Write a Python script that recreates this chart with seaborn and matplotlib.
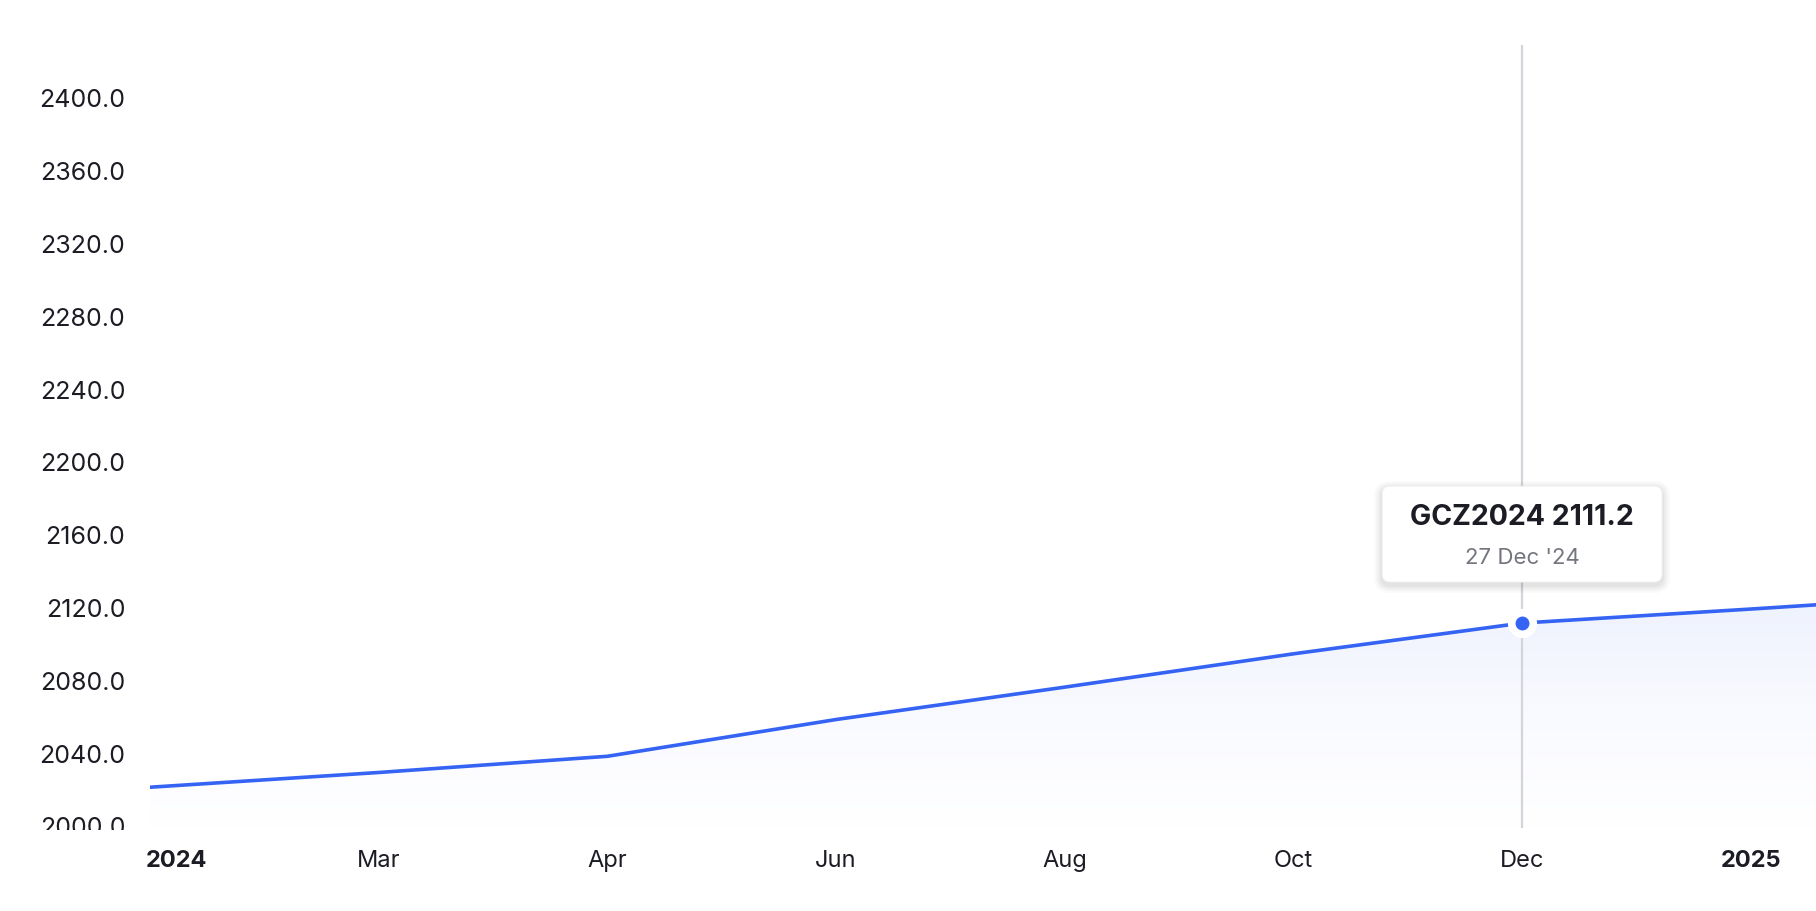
import numpy as np
import pandas as pd
import matplotlib
matplotlib.use("Agg")
import matplotlib.pyplot as plt
import matplotlib.transforms as mtransforms
from matplotlib.patches import FancyBboxPatch
from matplotlib.colors import LinearSegmentedColormap
import seaborn as sns

# ---------------- data ----------------
tick_labels = ["2024", "Mar", "Apr", "Jun", "Aug", "Oct", "Dec", "2025"]
curve_values = [2021.0, 2029.1, 2038.0, 2058.2, 2076.0, 2094.3, 2111.2, 2118.9, 2127.0]
y_ticks = [2000, 2040, 2080, 2120, 2160, 2200, 2240, 2280, 2320, 2360, 2400]
tooltip_symbol = "GCZ2024"
tooltip_value = 2111.2
tooltip_date = "27 Dec '24"
tooltip_index = 6

# ---------------- style ----------------
sns.set_theme(style="white")
plt.rcParams["font.family"] = ["Inter", "DejaVu Sans"]

LINE = "#3563F3"
TXT = "#1b1c24"

W, H, DPI = 1816, 912, 100
fig = plt.figure(figsize=(W / DPI, H / DPI), dpi=DPI)
ax = fig.add_axes([150 / W, 1 - 829 / H, 1 - 150 / W, (829 - 46) / H])

df = pd.DataFrame({"idx": np.arange(len(curve_values)), "price": curve_values})

ymin, ymax = 1998.6, 2428.8
xmin, xmax = 0.0, 7.285
ax.set_xlim(xmin, xmax)
ax.set_ylim(ymin, ymax)

# gradient fill under the line
cmap = LinearSegmentedColormap.from_list("g", ["#ffffff", "#f9faff", "#eef2fe"])
grad = np.linspace(0, 1, 256).reshape(-1, 1)
top_val = max(curve_values)
im = ax.imshow(grad, aspect="auto", cmap=cmap, origin="lower",
               extent=[xmin, len(curve_values) - 1, ymin, top_val], zorder=1)
poly = ax.fill_between(df["idx"], df["price"], ymin, color="none", lw=0)
im.set_clip_path(poly.get_paths()[0], transform=ax.transData)
ax.set_xlim(xmin, xmax)
ax.set_ylim(ymin, ymax)

# crosshair
ax.axvline(tooltip_index, color="#d2d5da", lw=1.6, zorder=2)

# line
sns.lineplot(data=df, x="idx", y="price", ax=ax, color=LINE, lw=2.6, zorder=3,
             legend=False)

# hovered point
ax.scatter([tooltip_index], [tooltip_value], s=21 ** 2, color="white", zorder=4, lw=0)
ax.scatter([tooltip_index], [tooltip_value], s=10 ** 2, color=LINE, zorder=5, lw=0)

# axes cosmetics
for s in ax.spines.values():
    s.set_visible(False)
ax.grid(False)
ax.set_xlabel("")
ax.set_ylabel("")
ax.set_xticks(range(len(tick_labels)))
ax.set_xticklabels(tick_labels)
ax.set_yticks(y_ticks)
ax.set_yticklabels([f"{v:.1f}" for v in y_ticks])
ax.tick_params(axis="both", length=0, colors=TXT, labelsize=17)
ax.tick_params(axis="y", labelsize=18, pad=17.8)
ax.tick_params(axis="x", pad=15)

for i, lbl in enumerate(ax.get_xticklabels()):
    if lbl.get_text() in ("2024", "2025"):
        lbl.set_fontweight("bold")
    if i == 0:
        lbl.set_horizontalalignment("left")
        lbl.set_transform(lbl.get_transform() + mtransforms.Affine2D().translate(-4, 0))

clip_bb = mtransforms.TransformedBbox(mtransforms.Bbox([[0, 1 - 831 / H], [1, 1]]), fig.transFigure)
for lbl in ax.get_yticklabels():
    lbl.set_clip_on(True)
    lbl.set_clip_box(clip_bb)

# tooltip anchored to the hovered point (offsets in pixels)
anchor = mtransforms.ScaledTranslation(tooltip_index, tooltip_value, ax.transData)
bx0, bx1 = -140, 140
by0, by1 = 41, 137
for k, a in enumerate([0.035, 0.03, 0.025, 0.02]):
    g = 2 + 2 * k
    sh = FancyBboxPatch((bx0 - g, by0 - 3 - g), (bx1 - bx0) + 2 * g, (by1 - by0) + 2 * g,
                        boxstyle=f"round,pad=0,rounding_size={8 + g}",
                        transform=anchor, facecolor="black", alpha=a, lw=0,
                        zorder=6, clip_on=False)
    fig.add_artist(sh)
box = FancyBboxPatch((bx0, by0), bx1 - bx0, by1 - by0,
                     boxstyle="round,pad=0,rounding_size=8",
                     transform=anchor, facecolor="white", edgecolor="#eceef1",
                     lw=0.6, zorder=7, clip_on=False)
fig.add_artist(box)
fig.text(0, 107, f"{tooltip_symbol} {tooltip_value:.1f}", transform=anchor,
         ha="center", va="center", fontsize=20.5, fontweight="bold",
         color=TXT, zorder=8)
fig.text(0, 66.5, tooltip_date, transform=anchor, ha="center", va="center",
         fontsize=16, color="#74767e", zorder=8)

fig.savefig("out.png", dpi=DPI, facecolor="white")
